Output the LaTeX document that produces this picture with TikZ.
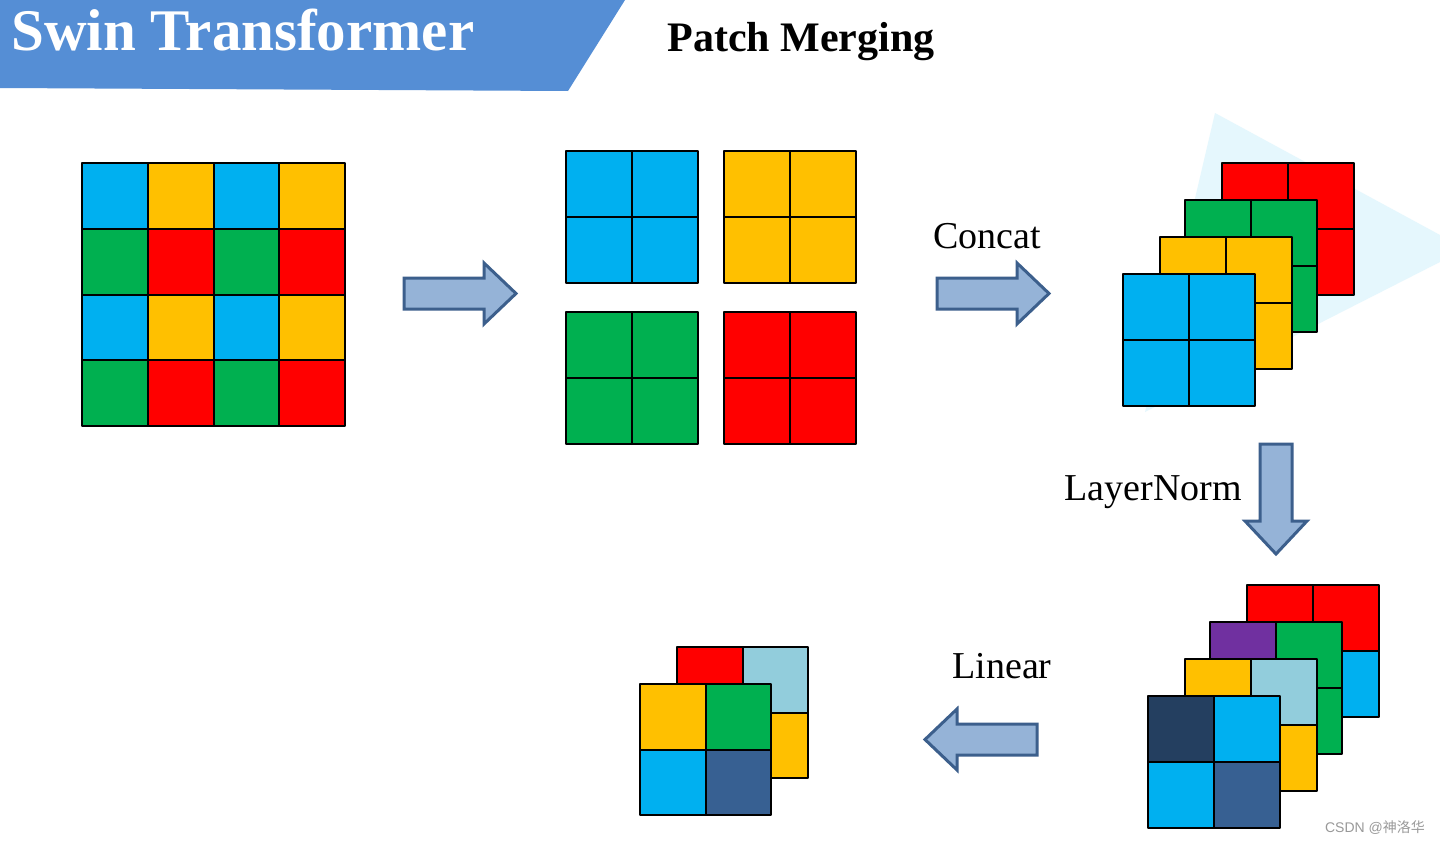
\documentclass[tikz,border=0pt]{standalone}
\usepackage{fontspec}
\setmainfont{Liberation Serif}
\setsansfont{Liberation Sans}
\newfontfamily\cjk{Noto Sans CJK SC}
\begin{document}
\definecolor{cB}{HTML}{00B0F0}
\definecolor{cY}{HTML}{FFC000}
\definecolor{cG}{HTML}{00B050}
\definecolor{cR}{HTML}{FF0000}
\definecolor{cP}{HTML}{7030A0}
\definecolor{cL}{HTML}{92CDDC}
\definecolor{cN}{HTML}{243F60}
\definecolor{cD}{HTML}{376092}
\definecolor{hdr}{HTML}{558ED5}
\definecolor{arrf}{HTML}{95B3D7}
\definecolor{arrd}{HTML}{3C5F8C}
\newcommand\qsq[7]{% x y size c1 c2 c3 c4
 \begin{scope}[shift={(#1,#2)}]
 \pgfmathsetmacro\hs{#3/2}
 \fill[#4] (0,0) rectangle (\hs,\hs);
 \fill[#5] (\hs,0) rectangle (#3,\hs);
 \fill[#6] (0,\hs) rectangle (\hs,#3);
 \fill[#7] (\hs,\hs) rectangle (#3,#3);
 \draw[cell] (0,0) rectangle (#3,#3) (\hs,0)--(\hs,#3) (0,\hs)--(#3,\hs);
 \end{scope}}
\begin{tikzpicture}[x=1pt,y=-1pt,
 cell/.style={line width=2pt,line join=round},
 arr/.style={fill=arrf,draw=arrd,line width=3pt,line join=miter},
 lbl/.style={font=\fontsize{38}{40}\selectfont}]
\useasboundingbox (0,0) rectangle (1440,843);
\fill[white] (0,0) rectangle (1440,843);
\fill[cB!10] (1215,113)--(1440,235)--(1440,262)--(1145,412)--cycle;
\fill[hdr] (0,0)--(625,0)--(568,91)--(0,88)--cycle;
\node[text=white,font=\bfseries\fontsize{59}{59}\selectfont,anchor=west,
 postaction={}] (t) at (8,30) {Swin Transformer};
\node[font=\bfseries\fontsize{42}{44}\selectfont] (pm) at (801,42) {Patch Merging};
% grid
\foreach \r/\a/\b in {0/cB/cY,1/cG/cR,2/cB/cY,3/cG/cR}{
 \foreach \c in {0,2}{
  \fill[\a] ({82+\c*65.75},{163+\r*65.75}) rectangle +(65.75,65.75);
  \fill[\b] ({82+(\c+1)*65.75},{163+\r*65.75}) rectangle +(65.75,65.75);}}
\foreach \i in {1,2,3}{\draw[cell] ({82+\i*65.75},163)--++(0,263) (82,{163+\i*65.75})--++(263,0);}
\draw[cell] (82,163) rectangle (345,426);
% arrows
\draw[arr] (404,278)--(484,278)--(484,263)--(516,293.5)--(484,324)--(484,309)--(404,309)--cycle;
\draw[arr] (937,278)--(1017,278)--(1017,263)--(1049,293.5)--(1017,324)--(1017,309)--(937,309)--cycle;
\draw[arr] (1037,724)--(957,724)--(957,709)--(925,739.5)--(957,770)--(957,755)--(1037,755)--cycle;
\draw[arr] (1260,444)--(1260,521)--(1245,521)--(1276,554)--(1307,521)--(1292,521)--(1292,444)--cycle;
% four squares
\qsq{566}{151}{131.5}{cB}{cB}{cB}{cB}
\qsq{724}{151}{131.5}{cY}{cY}{cY}{cY}
\qsq{566}{312}{131.5}{cG}{cG}{cG}{cG}
\qsq{724}{312}{131.5}{cR}{cR}{cR}{cR}
% stack 1
\qsq{1222}{163}{131.5}{cR}{cR}{cR}{cR}
\qsq{1185}{200}{131.5}{cG}{cG}{cG}{cG}
\qsq{1160}{237}{131.5}{cY}{cY}{cY}{cY}
\qsq{1123}{274}{131.5}{cB}{cB}{cB}{cB}
% stack 2
\qsq{1247}{585}{131.5}{cR}{cR}{cB}{cB}
\qsq{1210}{622}{131.5}{cP}{cG}{cG}{cG}
\qsq{1185}{659}{131.5}{cY}{cL}{cY}{cY}
\qsq{1148}{696}{131.5}{cN}{cB}{cB}{cD}
% small stack
\qsq{677}{647}{131}{cR}{cL}{cY}{cY}
\qsq{640}{684}{131}{cY}{cG}{cB}{cD}
% labels
\node[lbl] (cc) at (987,236) {Concat};
\node[lbl] (ln) at (1153,492) {LayerNorm};
\node[lbl] (li) at (1002,666) {Linear};
\node[text=black!40,font=\sffamily\fontsize{14}{14}\selectfont] (wm) at (1375,828) {CSDN @{\cjk 神洛华}};
\end{tikzpicture}
\end{document}
